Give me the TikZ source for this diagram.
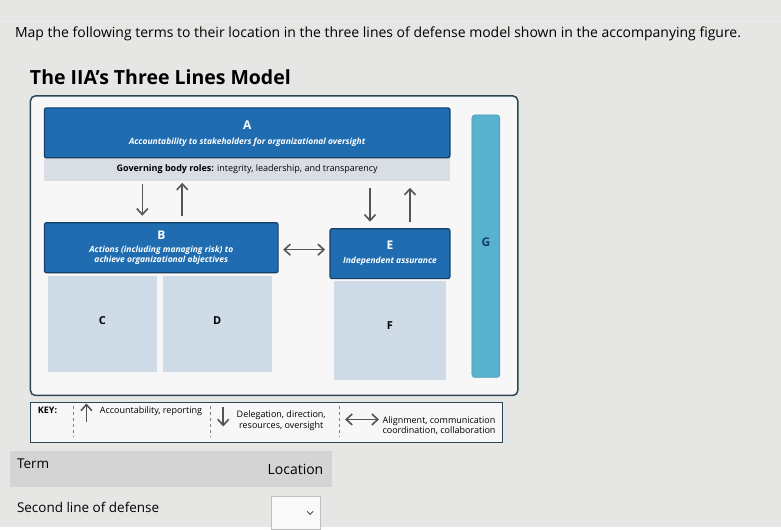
\documentclass[tikz,border=0pt]{standalone}
\usepackage{fontspec}
\setmainfont{Open Sans}
\usetikzlibrary{arrows.meta}
\definecolor{bg}{HTML}{E6E6E4}
\definecolor{frame}{HTML}{2C4656}
\definecolor{blu}{HTML}{1F6DB0}
\definecolor{navy}{HTML}{163F66}
\definecolor{pale}{HTML}{CFDCE8}
\definecolor{strip}{HTML}{D8DEE4}
\definecolor{teal}{HTML}{58B2CF}
\definecolor{arr}{HTML}{555555}
\tikzset{x=1pt,y=-1pt,
 bluebox/.style={draw=navy,line width=1.2pt,fill=blu,rounded corners=2pt},
 palebox/.style={draw=none,fill=pale},
 wt/.style={text=white,font=\bfseries\itshape\fontsize{8.5}{10}\selectfont,align=center},
 lt/.style={text=white,font=\bfseries\fontsize{12}{13}\selectfont},
 flow/.style={draw=arr,line width=1.6pt,-{Straight Barb[length=6pt,width=11pt]}},
 both/.style={draw=arr,line width=1.6pt,{Straight Barb[length=6pt,width=11pt]}-{Straight Barb[length=6pt,width=11pt]}},
 keyt/.style={font=\fontsize{9}{10.5}\selectfont,align=center,anchor=west}}
\begin{document}
\begin{tikzpicture}
\fill[bg] (0,0) rectangle (781,528);
\draw[white!85!gray,line width=1pt] (0,22) -- (781,22);
\node[anchor=west,font=\fontsize{14}{16}\selectfont] (q) at (11,34) {Map the following terms to their location in the three lines of defense model shown in the accompanying figure.};
\node[anchor=west,font=\bfseries\fontsize{19.5}{22}\selectfont] (title) at (26,77) {The IIA’s Three Lines Model};
\draw[frame,line width=1.5pt,fill=white!94!gray,rounded corners=5pt] (30,96) rectangle (518,396);
\fill[strip] (44,156) rectangle (450,181);
\node[font=\bfseries\fontsize{9}{10}\selectfont] (gov) at (247,169) {Governing body roles: \normalfont integrity, leadership, and transparency};
\draw[bluebox] (44,108) rectangle (450,158);
\node[lt] (A) at (247,125) {A};
\node[wt] (At) at (247,142) {Accountability to stakeholders for organizational oversight};
\draw[bluebox] (44,223) rectangle (278,273);
\node[lt] (B) at (161,236) {B};
\node[wt] (Bt) at (161,256) {Actions (including managing risk) to\\achieve organizational objectives};
\draw[bluebox] (330,229) rectangle (450,279);
\node[lt] (E) at (390,246) {E};
\node[wt] (Et) at (390,262) {Independent assurance};
\fill[palebox] (48,276) rectangle (157,372);
\fill[palebox] (163,276) rectangle (272,372);
\fill[palebox] (334,281) rectangle (446,380);
\node[font=\bfseries\fontsize{11}{12}\selectfont] (C) at (102,321) {C};
\node[font=\bfseries\fontsize{11}{12}\selectfont] (D) at (217,321) {D};
\node[font=\bfseries\fontsize{11}{12}\selectfont] (F) at (390,326) {F};
\draw[teal!80!black,fill=teal,rounded corners=3pt] (472,115) rectangle (500,378);
\node[font=\bfseries\fontsize{12}{13}\selectfont,text=navy] (G) at (486,243) {G};
\coordinate (d1s) at (142,184); \coordinate (d1e) at (142,216);
\coordinate (u1s) at (182,216); \coordinate (u1e) at (182,183);
\coordinate (d2s) at (370,188); \coordinate (d2e) at (370,222);
\coordinate (u2s) at (410,222); \coordinate (u2e) at (410,188);
\draw[flow] (d1s) -- (d1e); \draw[flow] (u1s) -- (u1e);
\draw[flow] (d2s) -- (d2e); \draw[flow] (u2s) -- (u2e);
\coordinate (h1) at (283,250); \coordinate (h2) at (325,250);
\draw[both] (h1) -- (h2);
% key
\draw[frame,line width=1pt,fill=white!94!gray] (30,403) rectangle (503,443);
\node[anchor=west,font=\bfseries\fontsize{9}{10}\selectfont] (key) at (34,411) {KEY:};
\draw[gray,dashed] (73,407) -- (73,438);
\draw[gray,dashed] (210,407) -- (210,438);
\draw[gray,dashed] (339,407) -- (339,438);
\draw[flow] (86,423) -- (86,404);
\node[keyt] (k1) at (96,412) {Accountability, reporting};
\draw[flow] (223,408) -- (223,427);
\node[keyt] (k2) at (233,421) {Delegation, direction,\\resources, oversight};
\draw[both] (345,420) -- (379,420);
\node[keyt] (k3) at (379,426) {Alignment, communication\\coordination, collaboration};
% table
\fill[black!17] (10,452) rectangle (332,488);
\node[anchor=west,font=\fontsize{13.5}{15}\selectfont] (term) at (13,464) {Term};
\node[anchor=west,font=\fontsize{14}{16}\selectfont] (loc) at (264,470) {Location};
\node[anchor=west,font=\fontsize{13.5}{15}\selectfont] (sl) at (13,508) {Second line of defense};
\draw[black!25,fill=white!95!gray] (271,497) rectangle (320,530);
\draw[black!70,line width=0.8pt] (307,512) -- (310,515) -- (313,512);
\end{tikzpicture}
\end{document}
